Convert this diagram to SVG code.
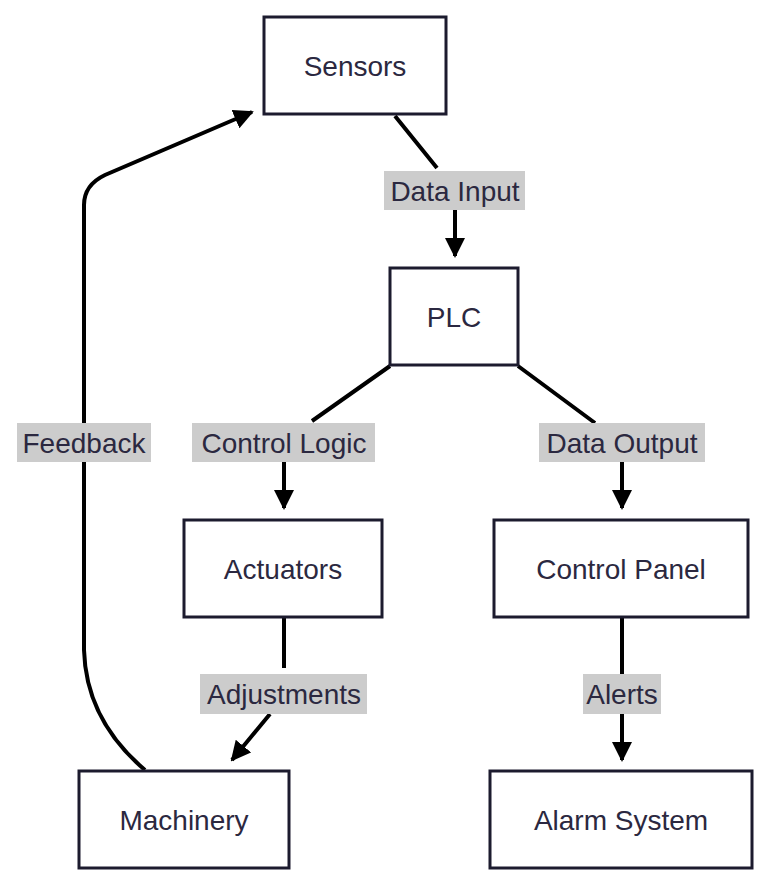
<svg xmlns="http://www.w3.org/2000/svg" width="768" height="888" viewBox="0 0 768 888">
<style>
.n rect{fill:#fff;stroke:#1c1b2e;stroke-width:3}
text{font-family:"Liberation Sans",Arial,sans-serif;font-size:28px;fill:#2b2840;text-anchor:middle;dominant-baseline:central}
.e path{fill:none;stroke:#000;stroke-width:4}
.l rect{fill:#cccccc;stroke:none}
</style>
<defs><marker id="a" viewBox="0 0 10 10" refX="9" refY="5" markerWidth="5" markerHeight="5" orient="auto" markerUnits="strokeWidth"><path d="M0,0L10,5L0,10z" fill="#000"/></marker></defs>
<rect width="768" height="888" fill="#fff"/>
<g class="e">
<path d="M395,116 L437,168 M455,210 L455,256" marker-end="url(#a)"/>
<path d="M390,366 L312,421 M284,462 L284,508" marker-end="url(#a)"/>
<path d="M518,366 L595,423 M622,462 L622,508" marker-end="url(#a)"/>
<path d="M284,618 L284,668 M270,714 L232,760" marker-end="url(#a)"/>
<path d="M622,618 L622,760" marker-end="url(#a)"/>
<path d="M145,770 Q86,720 84,650 L84,205 Q84,185 105,175 L252,112" marker-end="url(#a)"/>
</g>
<g class="l">
<rect x="384" y="171" width="141" height="39"/><text x="455" y="191">Data Input</text>
<rect x="192" y="423" width="183" height="39"/><text x="284" y="443">Control Logic</text>
<rect x="539" y="423" width="166" height="39"/><text x="622" y="443">Data Output</text>
<rect x="17" y="423" width="134" height="39"/><text x="84" y="443">Feedback</text>
<rect x="200" y="674" width="167" height="40"/><text x="284" y="694">Adjustments</text>
<rect x="583" y="674" width="78" height="40"/><text x="622" y="694">Alerts</text>
</g>
<g id="sensors" class="n"><rect x="264" y="17" width="182" height="97"/><text x="355" y="66">Sensors</text></g>
<g id="plc" class="n"><rect x="390" y="268" width="128" height="97"/><text x="454" y="317">PLC</text></g>
<g id="actuators" class="n"><rect x="184" y="520" width="198" height="97"/><text x="283" y="569">Actuators</text></g>
<g id="panel" class="n"><rect x="494" y="520" width="254" height="97"/><text x="621" y="569">Control Panel</text></g>
<g id="machinery" class="n"><rect x="79" y="771" width="210" height="97"/><text x="184" y="820">Machinery</text></g>
<g id="alarm" class="n"><rect x="490" y="771" width="262" height="97"/><text x="621" y="820">Alarm System</text></g>
</svg>
